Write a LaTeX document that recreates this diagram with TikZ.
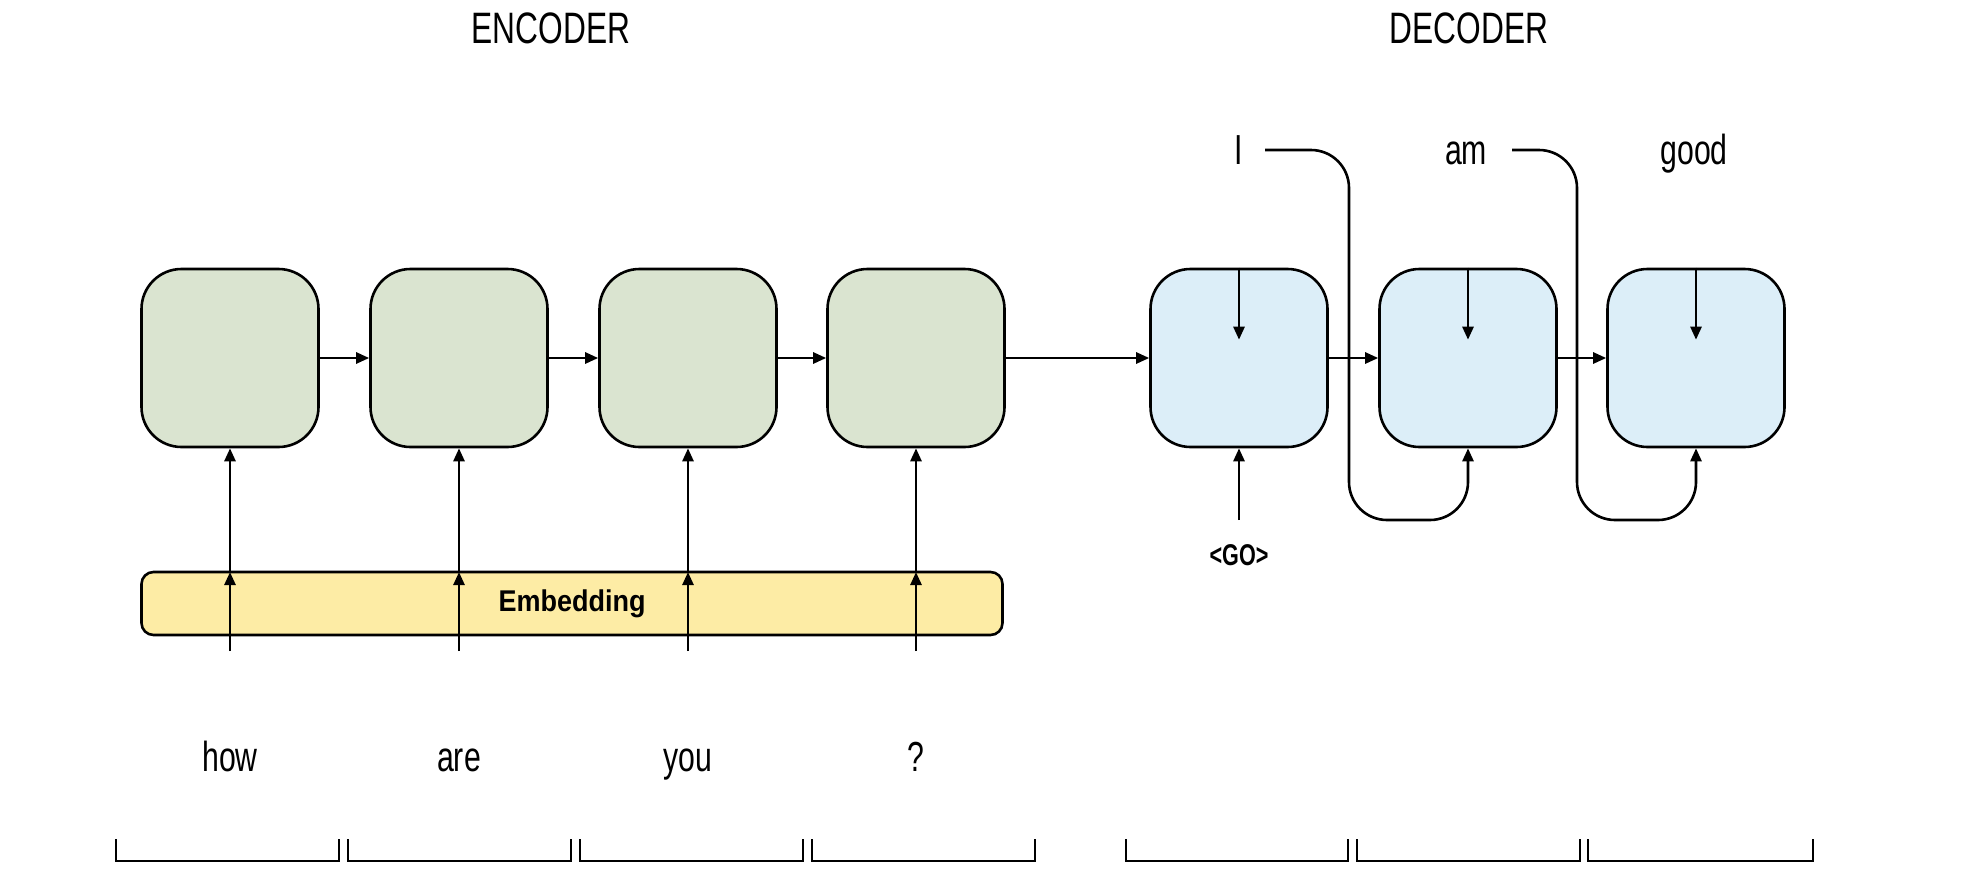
\documentclass[tikz,border=0pt]{standalone}
\usepackage{fontspec}
\setmainfont{Liberation Sans}[FakeStretch=0.72]
\newfontfamily\embfont{Liberation Sans}[FakeStretch=0.9]
\usetikzlibrary{arrows.meta}
\begin{document}
\begin{tikzpicture}[x=1pt,y=-1pt,line width=2.6pt,
  cell/.style={draw,rounded corners=40pt,minimum width=177pt,minimum height=178pt,inner sep=0pt},
  enc/.style={cell,fill=green!10!gray!15!white, fill={rgb,255:red,218;green,228;blue,208}},
  dec/.style={cell,fill={rgb,255:red,220;green,238;blue,248}},
  word/.style={font=\fontsize{42}{44}\selectfont},
  title/.style={font=\fontsize{44}{46}\selectfont},
  arr/.style={-{Triangle[length=13pt,width=11pt]}},
  br/.style={line width=2.2pt}]
\useasboundingbox (0,0) rectangle (1964,868);
\node[title] (te) at (551,28) {ENCODER};
\node[title] (td) at (1469,28) {DECODER};
\foreach \n/\x in {1/230,2/459,3/688,4/916}{
  \node[enc] (e\n) at (\x,358) {};
}
\foreach \n/\x in {1/1239,2/1468,3/1696}{
  \node[dec] (d\n) at (\x,358) {};
}
\node[draw,rounded corners=12pt,fill={rgb,255:red,253;green,236;blue,165},minimum width=861pt,minimum height=63pt,inner sep=0pt,font=\embfont\bfseries\fontsize{30}{32}\selectfont] (emb) at (572,603.5) {Embedding};
\foreach \n/\x/\w in {1/230/how,2/459/are,3/688/you,4/916/?}{
  \node[word,anchor=base] (w\n) at (\x,771) {\w};
  \coordinate (ws\n) at (\x,651);
  \draw[arr] (ws\n) -- (\x,572);
  \draw[arr] (\x,572) -- (e\n.south);
}
\draw[arr] (e1) -- (e2);
\draw[arr] (e2) -- (e3);
\draw[arr] (e3) -- (e4);
\draw[arr] (e4) -- (d1);
\draw[arr] (d1) -- (d2);
\draw[arr] (d2) -- (d3);
\node[word,anchor=base] (o1) at (1239,164) {I};
\node[word,anchor=base] (o2) at (1466,164) {am};
\node[word,anchor=base] (o3) at (1694,164) {good};
\foreach \n in {1,2,3}{
  \coordinate (t\n) at ([yshift=-72pt]d\n.north);
  \draw[arr] (d\n.north) -- (t\n);
}
\node[font=\fontsize{30}{32}\selectfont\bfseries] (go) at (1239,555) {<GO>};
\coordinate (gs) at (1239,520);
\draw[arr] (gs) -- (d1.south);
\coordinate (l1) at (1265,150);
\coordinate (l2) at (1512,150);
\draw[arr,rounded corners=38pt] (l1) -- (1349,150) -- (1349,520) -- (1468,520) -- (d2.south);
\draw[arr,rounded corners=38pt] (l2) -- (1577,150) -- (1577,520) -- (1696,520) -- (d3.south);
\foreach \a/\b in {116/339,348/571,580/803,812/1035,1126/1348,1357/1580,1588/1813}{
  \draw[br] (\a,839) -- (\a,861) -- (\b,861) -- (\b,839);
}
\end{tikzpicture}
\end{document}
